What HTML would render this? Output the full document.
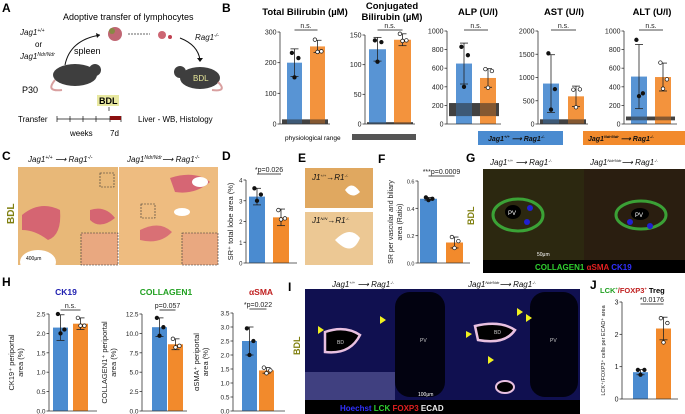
<!DOCTYPE html>
<html><head><meta charset="utf-8">
<style>
html,body{margin:0;padding:0;background:#fff;}
svg{display:block;font-family:"Liberation Sans",Arial,sans-serif;}
.t{font-size:8px;fill:#222}
.h{font-weight:bold;font-size:12px;fill:#000}
.ttl{font-weight:bold;font-size:10px;fill:#000}
.it{font-style:italic;font-size:9px;fill:#111}
</style></head>
<body>
<svg id="fig" width="685" height="414" viewBox="0 0 685 414" xmlns="http://www.w3.org/2000/svg">
<!-- Panel A -->
<g>
<text x="2" y="12" class="h">A</text>
<text x="63" y="20" style="font-size:9px">Adoptive transfer of lymphocytes</text>
<text x="20" y="35" class="it" style="font-size:8px">Jag1<tspan font-size="5" dy="-3">+/+</tspan></text>
<text x="35" y="47" style="font-size:8px">or</text>
<text x="20" y="59" class="it" style="font-size:8px">Jag1<tspan font-size="5" dy="-3">Ndr/Ndr</tspan></text>
<path d="M65 65 Q70 40 100 35" fill="none" stroke="#111" stroke-width="1"/><path d="M100 35 l-4 -2 l1 5z" fill="#111"/>
<text x="74" y="54" style="font-size:9px">spleen</text>
<circle cx="115" cy="34" r="7" fill="#b04050" opacity="0.8"/><circle cx="112" cy="31" r="3" fill="#884"/>
<line x1="128" y1="34" x2="150" y2="34" stroke="#333" stroke-dasharray="2,1" stroke-width="0.7"/>
<circle cx="162" cy="35" r="4" fill="#c04050" opacity="0.8"/><circle cx="170" cy="37" r="2" fill="#c04050"/>
<text x="195" y="40" class="it" style="font-size:8px">Rag1<tspan font-size="5" dy="-3">-/-</tspan></text>
<path d="M180 38 Q198 45 200 60" fill="none" stroke="#111" stroke-width="1"/><path d="M197 58 l3 4 l3 -4z" fill="#111"/>
<ellipse cx="75" cy="75" rx="22" ry="11" fill="#3e3e3e"/>
<circle cx="95" cy="70" r="6" fill="#3e3e3e"/><path d="M55 80 Q45 92 62 90" stroke="#d9a0a0" stroke-width="2" fill="none"/>
<text x="22" y="93" style="font-size:9px">P30</text>
<ellipse cx="200" cy="78" rx="20" ry="11" fill="#3e3e3e"/>
<circle cx="180" cy="72" r="6" fill="#3e3e3e"/><path d="M218 82 Q228 92 212 90" stroke="#d9a0a0" stroke-width="2" fill="none"/>
<text x="193" y="81" style="font-size:8px;fill:#e8e89a">BDL</text>
<rect x="97" y="95" width="22" height="11" fill="#e8e8a0"/>
<text x="99" y="104" style="font-size:9px;font-weight:bold">BDL</text>
<line x1="109" y1="107" x2="109" y2="111" stroke="#111" stroke-width="0.7"/>
<text x="18" y="122" style="font-size:8px">Transfer</text>
<line x1="57" y1="119" x2="110" y2="119" stroke="#111" stroke-width="0.7"/>
<g stroke="#111" stroke-width="0.7"><line x1="57" y1="116" x2="57" y2="122"/><line x1="70" y1="116" x2="70" y2="122"/><line x1="83" y1="116" x2="83" y2="122"/><line x1="96" y1="116" x2="96" y2="122"/><line x1="110" y1="116" x2="110" y2="122"/><line x1="121" y1="116" x2="121" y2="122"/></g>
<rect x="110" y="116" width="11" height="4" fill="#8b1010"/>
<text x="70" y="136" style="font-size:8px">weeks</text>
<text x="110" y="136" style="font-size:8px">7d</text>
<text x="138" y="122" style="font-size:8px">Liver - WB, Histology</text>
</g>
<text x="222" y="12" class="h">B</text>
<!-- Legend B -->
<text x="285" y="140" style="font-size:6.5px">physiological range</text>
<rect x="352" y="134" width="64" height="6" fill="#555"/>
<rect x="478" y="131" width="85" height="14" fill="#4a8bd0"/>
<text x="488" y="141" class="it" style="font-size:7px;font-weight:bold">Jag1<tspan font-size="4" dy="-3">+/+</tspan><tspan dy="3"> ⟶ Rag1</tspan><tspan font-size="4" dy="-3">-/-</tspan></text>
<rect x="583" y="131" width="102" height="14" fill="#f28a2c"/>
<text x="588" y="141" class="it" style="font-size:7px;font-weight:bold">Jag1<tspan font-size="4" dy="-3">Ndr/Ndr</tspan><tspan dy="3"> ⟶ Rag1</tspan><tspan font-size="4" dy="-3">-/-</tspan></text>

<!-- Panel C -->
<text x="2" y="160" class="h">C</text>
<text x="28" y="162" class="it" style="font-size:8px">Jag1<tspan font-size="5" dy="-3">+/+</tspan><tspan dy="3"> ⟶  Rag1</tspan><tspan font-size="5" dy="-3">-/-</tspan></text>
<text x="127" y="162" class="it" style="font-size:8px">Jag1<tspan font-size="5" dy="-3">Ndr/Ndr</tspan><tspan dy="3">⟶ Rag1</tspan><tspan font-size="5" dy="-3">-/-</tspan></text>
<g>
<rect x="18" y="167" width="100" height="98" fill="#e8b878"/>
<rect x="119" y="167" width="99" height="98" fill="#eebc80"/>
<path d="M22 215 Q40 200 60 210 Q62 235 48 240 Q35 230 22 230z" fill="#d05070" opacity="0.8"/>
<path d="M90 210 Q105 205 115 218 Q100 230 90 220z" fill="#d05070" opacity="0.8"/>
<path d="M170 178 Q195 170 210 182 Q195 195 175 192z" fill="#d05070" opacity="0.8"/>
<path d="M140 230 Q160 220 172 232 Q160 245 140 240z" fill="#d05070" opacity="0.7"/>
<ellipse cx="38" cy="262" rx="18" ry="12" fill="#fff"/>
<ellipse cx="200" cy="182" rx="8" ry="5" fill="#fff"/><ellipse cx="182" cy="212" rx="8" ry="4" fill="#fff"/>
<rect x="81" y="233" width="37" height="32" fill="#e9a880" stroke="#333" stroke-dasharray="2,1" stroke-width="0.6"/>
<rect x="182" y="233" width="36" height="32" fill="#e9a880" stroke="#333" stroke-dasharray="2,1" stroke-width="0.6"/>
<rect x="100" y="173" width="14" height="14" fill="none" stroke="#333" stroke-dasharray="2,1" stroke-width="0.6"/>
<rect x="141" y="204" width="14" height="14" fill="none" stroke="#333" stroke-dasharray="2,1" stroke-width="0.6"/>
<text x="26" y="260" style="font-size:5px">400μm</text>
</g>
<text x="14" y="224" transform="rotate(-90 14 224)" style="font-size:10px;font-weight:bold;fill:#808010">BDL</text>
<text x="222" y="160" class="h">D</text>
<!-- Panel E -->
<text x="298" y="162" class="h">E</text>
<g>
<rect x="305" y="168" width="68" height="40" fill="#e0a860"/>
<rect x="305" y="212" width="68" height="53" fill="#ecc894"/>
<path d="M345 190 Q352 180 360 192 Q352 200 345 190z" fill="#fff"/>
<path d="M335 240 Q350 225 360 238 Q352 258 335 240z" fill="#fff"/>
<text x="312" y="180" class="it" style="font-size:8px">J1<tspan font-size="4" dy="-3">+/+</tspan><tspan dy="3">→R1</tspan><tspan font-size="4" dy="-3">-/-</tspan></text>
<text x="312" y="223" class="it" style="font-size:8px">J1<tspan font-size="4" dy="-3">N/N</tspan><tspan dy="3">→R1</tspan><tspan font-size="4" dy="-3">-/-</tspan></text>
</g>
<text x="378" y="163" class="h">F</text>
<!-- Panel G -->
<text x="466" y="162" class="h">G</text>
<text x="490" y="165" class="it" style="font-size:8px">Jag1<tspan font-size="4" dy="-3">+/+</tspan><tspan dy="3"> ⟶  Rag1</tspan><tspan font-size="4" dy="-3">-/-</tspan></text>
<text x="590" y="165" class="it" style="font-size:8px">Jag1<tspan font-size="4" dy="-3">Ndr/Ndr</tspan><tspan dy="3">⟶ Rag1</tspan><tspan font-size="4" dy="-3">-/-</tspan></text>
<g>
<rect x="483" y="169" width="202" height="91" fill="#2c2810"/>
<rect x="584" y="169" width="101" height="91" fill="#2a1e10"/>
<ellipse cx="518" cy="215" rx="25" ry="16" fill="none" stroke="#40c040" stroke-width="3" opacity="0.8"/>
<ellipse cx="641" cy="215" rx="25" ry="14" fill="none" stroke="#40c040" stroke-width="3" opacity="0.8"/>
<ellipse cx="513" cy="212" rx="8" ry="7" fill="#000"/><ellipse cx="640" cy="214" rx="9" ry="6" fill="#000"/>
<circle cx="530" cy="208" r="3" fill="#2020d0"/><circle cx="527" cy="222" r="3" fill="#2020d0"/><circle cx="630" cy="222" r="3" fill="#2020d0"/><circle cx="650" cy="226" r="3" fill="#2020d0"/>
<text x="508" y="215" style="font-size:6px;fill:#fff">PV</text>
<text x="635" y="217" style="font-size:6px;fill:#fff">PV</text>
<rect x="483" y="260" width="202" height="13" fill="#000"/>
<text x="535" y="270" style="font-size:8px;font-weight:bold"><tspan fill="#30d030">COLLAGEN1 </tspan><tspan fill="#e02020">αSMA </tspan><tspan fill="#3030ff">CK19</tspan></text>
<text x="537" y="256" style="font-size:5px;fill:#fff">50μm</text>
</g>
<text x="474" y="225" transform="rotate(-90 474 225)" style="font-size:9px;font-weight:bold;fill:#808010">BDL</text>
<!-- Panel H -->
<text x="2" y="286" class="h">H</text>
<!-- Panel I -->
<text x="288" y="291" class="h">I</text>
<text x="332" y="287" class="it" style="font-size:8px">Jag1<tspan font-size="4" dy="-3">+/+</tspan><tspan dy="3"> ⟶  Rag1</tspan><tspan font-size="4" dy="-3">-/-</tspan></text>
<text x="468" y="287" class="it" style="font-size:8px">Jag1<tspan font-size="4" dy="-3">Ndr/Ndr</tspan><tspan dy="3">⟶ Rag1</tspan><tspan font-size="4" dy="-3">-/-</tspan></text>
<g>
<rect x="305" y="289" width="275" height="125" fill="#101050"/>
<rect x="395" y="292" width="50" height="105" rx="15" fill="#020210"/>
<rect x="530" y="292" width="48" height="105" rx="15" fill="#020210"/>
<path d="M325 332 Q345 325 360 335 Q350 355 325 352z" fill="#000" stroke="#e8c0e0" stroke-width="2.5"/>
<path d="M475 326 Q500 320 515 330 Q505 345 478 340z" fill="#000" stroke="#e8c0e0" stroke-width="2.5"/>
<ellipse cx="505" cy="387" rx="9" ry="6" fill="#000" stroke="#e8c0e0" stroke-width="2"/>
<rect x="305" y="372" width="90" height="28" fill="#6060a0" opacity="0.6"/>
<rect x="305" y="400" width="275" height="14" fill="#000"/>
<text x="340" y="411" style="font-size:8px;font-weight:bold"><tspan fill="#3030ff">Hoechst </tspan><tspan fill="#30d030">LCK </tspan><tspan fill="#e02020">FOXP3 </tspan><tspan fill="#eee">ECAD</tspan></text>
<text x="420" y="342" style="font-size:5px;fill:#ccc">PV</text>
<text x="550" y="342" style="font-size:5px;fill:#ccc">PV</text>
<text x="337" y="344" style="font-size:5px;fill:#ccc">BD</text>
<text x="494" y="334" style="font-size:5px;fill:#ccc">BD</text>
<polygon points="318,326 324,330 318,334" fill="#f0f020"/><polygon points="380,316 386,320 380,324" fill="#f0f020"/>
<polygon points="466,331 472,334 466,338" fill="#f0f020"/><polygon points="488,356 494,360 488,364" fill="#f0f020"/>
<polygon points="517,308 523,312 517,316" fill="#f0f020"/><polygon points="526,314 532,318 526,322" fill="#f0f020"/>
<text x="418" y="396" style="font-size:5px;fill:#fff">100μm</text>
</g>
<text x="300" y="355" transform="rotate(-90 300 355)" style="font-size:9px;font-weight:bold;fill:#808010">BDL</text>
<!-- Panel J -->
<text x="590" y="289" class="h">J</text>
<text x="600" y="293" style="font-size:7.5px;font-weight:bold"><tspan fill="#20a020">LCK<tspan font-size="4" dy="-3">+</tspan></tspan><tspan dy="3" fill="#c02020">/FOXP3<tspan font-size="4" dy="-3">+</tspan></tspan><tspan dy="3"> Treg</tspan></text>
<g id="charts"></g>
</svg>
<script>
// ---- Data arrays ----
const groups = ["Jag1+/+ → Rag1-/-", "Jag1Ndr/Ndr → Rag1-/-"];
const totalBiliMeans = [200, 253];
const totalBiliErr = [45, 20];
const totalBiliPtsA = [232, 215, 152];
const totalBiliPtsB = [275, 237, 235];
const totalBiliRange = [0, 15];
const totalBiliTicks = [0, 100, 200, 300];
const conjBiliMeans = [126, 142];
const conjBiliErr = [20, 10];
const conjBiliPtsA = [141, 138, 105];
const conjBiliPtsB = [152, 141, 140];
const conjBiliRange = [0, 3];
const conjBiliTicks = [0, 50, 100, 150];
const alpMeans = [650, 495];
const alpErr = [220, 100];
const alpPtsA = [830, 740, 400];
const alpPtsB = [590, 570, 390];
const alpRange = [85, 225];
const alpTicks = [0, 200, 400, 600, 800, 1000];
const astMeans = [870, 595];
const astErr = [620, 220];
const astPtsA = [1520, 750, 310];
const astPtsB = [740, 745, 360];
const astRange = [0, 100];
const astTicks = [0, 500, 1000, 1500, 2000];
const altMeans = [510, 505];
const altErr = [345, 150];
const altPtsA = [905, 330, 300];
const altPtsB = [660, 480, 380];
const altRange = [40, 80];
const altTicks = [0, 200, 400, 600, 800, 1000];
const srMeans = [3.2, 2.2];
const srErr = [0.4, 0.4];
const srPtsA = [3.6, 3.3, 3.0];
const srPtsB = [2.55, 2.15, 2.1];
const srTicks = [0, 1, 2, 3, 4];
const srRatioMeans = [0.47, 0.15];
const srRatioErr = [0.01, 0.04];
const srRatioPtsA = [0.48, 0.47, 0.46];
const srRatioPtsB = [0.19, 0.16, 0.11];
const srRatioTicks = [0, 0.2, 0.4, 0.6];
const ck19Means = [2.15, 2.25];
const ck19Err = [0.33, 0.15];
const ck19PtsA = [2.5, 2.1, 2.0];
const ck19PtsB = [2.4, 2.2, 2.2];
const ck19Ticks = [0, 0.5, 1.0, 1.5, 2.0, 2.5];
const colMeans = [10.8, 8.6];
const colErr = [1.2, 0.7];
const colPtsA = [12, 10.8, 9.7];
const colPtsB = [9.3, 8.4, 8.2];
const colTicks = [0, 2.5, 5.0, 7.5, 10.0, 12.5];
const smaMeans = [2.5, 1.45];
const smaErr = [0.5, 0.1];
const smaPtsA = [2.95, 2.5, 2.0];
const smaPtsB = [1.55, 1.45, 1.35];
const smaTicks = [0, 0.5, 1.0, 1.5, 2.0, 2.5, 3.0, 3.5];
const tregMeans = [0.83, 2.18];
const tregErr = [0.08, 0.35];
const tregPtsA = [0.9, 0.9, 0.75];
const tregPtsB = [2.5, 2.35, 1.75];
const tregTicks = [0, 1, 2, 3];

const NS = "http://www.w3.org/2000/svg";
const root = document.getElementById("charts");
function el(tag, attrs, parent) {
  const e = document.createElementNS(NS, tag);
  for (const k in attrs) e.setAttribute(k, attrs[k]);
  (parent || root).appendChild(e);
  return e;
}
function fmt(v, dec) { return dec ? v.toFixed(dec) : String(v); }

function chart(c) {
  const g = el("g", {});
  
  
  const tmax = c.ticks[c.ticks.length - 1];
  const y = v => c.y0 - (v / tmax) * (c.y0 - c.yTop);
  const bx = [c.x1, c.x2];
  if (c.range) {
    const band = el("rect", {x: c.ax + 2, y: y(c.range[1]), width: c.axEnd - c.ax - 4, height: Math.max(1.5, y(c.range[0]) - y(c.range[1])), fill: "#444", opacity: "0.9"}, g);
    
    
  }
  const colors = ["#4a8bd0", "#f28a2c"];
  for (let i = 0; i < 2; i++) {
    const top = y(c.means[i]);
    const r = el("rect", {x: bx[i], y: top, width: c.bw, height: c.y0 - top, fill: colors[i], opacity: c.range ? 0.92 : 1}, g);
    
    
    const cx = bx[i] + c.bw / 2;
    const eh = y(c.means[i] + c.err[i]), el_ = y(Math.max(0, c.means[i] - c.err[i]));
    const eb = el("g", {stroke: "#222", "stroke-width": 0.8}, g);
    
    
    el("line", {x1: cx, y1: eh, x2: cx, y2: el_}, eb);
    el("line", {x1: cx - 4, y1: eh, x2: cx + 4, y2: eh}, eb);
    el("line", {x1: cx - 4, y1: el_, x2: cx + 4, y2: el_}, eb);
    const pts = i === 0 ? c.ptsA : c.ptsB;
    const offs = [-2, 3, 0];
    pts.forEach((p, k) => {
      const d = el("circle", {cx: cx + offs[k] * 1.3, cy: y(p), r: 1.8, fill: i === 0 ? "#111" : "#fff", stroke: "#111", "stroke-width": 0.7}, g);
      
      
    });
  }
  if (c.range) {
    el("rect", {x: c.ax + 2, y: y(c.range[1]), width: c.axEnd - c.ax - 4, height: Math.max(1.5, y(c.range[0]) - y(c.range[1])), fill: "#333", opacity: "0.55"}, g);
  }
  el("line", {x1: c.ax, y1: c.yTop, x2: c.ax, y2: c.y0, stroke: "#333", "stroke-width": 0.8}, g);
  el("line", {x1: c.ax, y1: c.y0, x2: c.axEnd, y2: c.y0, stroke: "#333", "stroke-width": 0.8}, g);
  c.ticks.forEach(t => {
    el("line", {x1: c.ax - 2.5, y1: y(t), x2: c.ax, y2: y(t), stroke: "#333", "stroke-width": 0.8}, g);
    const tl = el("text", {x: c.ax - 3.5, y: y(t) + 2.5, "text-anchor": "end", class: "t", style: "font-size:" + (c.fs || 7) + "px"}, g);
    tl.textContent = fmt(t, c.dec);
    
    
  });
  if (c.sig) {
    const sy = c.sigY;
    el("line", {x1: bx[0] + c.bw / 2, y1: sy, x2: bx[1] + c.bw / 2, y2: sy, stroke: "#111", "stroke-width": 0.8}, g);
    const st = el("text", {x: (bx[0] + bx[1] + c.bw) / 2, y: sy - 2, "text-anchor": "middle", class: "t", style: "font-size:7px"}, g);
    st.textContent = c.sig;
    
    
  }
  if (c.title) {
    c.title.forEach((line, k) => {
      const tt = el("text", {x: c.tx, y: c.ty + k * 11, "text-anchor": "middle", class: "ttl", style: "fill:" + (c.tcol || "#000") + ";font-size:" + (c.tfs || 9.5) + "px"}, g);
      tt.textContent = line;
      
      
    });
  }
  if (c.ylabel) {
    const cy = (c.yTop + c.y0) / 2;
    const sp = c.ysp || 9;
    c.ylabel.forEach((line, k) => {
      const yl = el("text", {x: c.ylx + k * sp, y: cy, "text-anchor": "middle", transform: "rotate(-90 " + (c.ylx + k * sp) + " " + cy + ")", style: "font-size:" + (c.yfs || 8) + "px;fill:#222"}, g);
      yl.textContent = line;
      
      
    });
  }
}

chart({name: "total-bilirubin-chart", means: totalBiliMeans, err: totalBiliErr, ptsA: totalBiliPtsA, ptsB: totalBiliPtsB, range: totalBiliRange, ticks: totalBiliTicks,
  ax: 280, axEnd: 330, y0: 124, yTop: 32, x1: 287, x2: 310, bw: 15, sig: "n.s.", sigY: 30, title: ["Total Bilirubin (µM)"], tx: 305, ty: 15});
chart({name: "conjugated-bilirubin-chart", means: conjBiliMeans, err: conjBiliErr, ptsA: conjBiliPtsA, ptsB: conjBiliPtsB, range: conjBiliRange, ticks: conjBiliTicks,
  ax: 365, axEnd: 415, y0: 124, yTop: 35, x1: 369, x2: 394, bw: 17, sig: "n.s.", sigY: 30, title: ["Conjugated", "Bilirubin (µM)"], tx: 392, ty: 9});
chart({name: "alp-chart", means: alpMeans, err: alpErr, ptsA: alpPtsA, ptsB: alpPtsB, range: alpRange, ticks: alpTicks,
  ax: 447, axEnd: 501, y0: 124, yTop: 31, x1: 456, x2: 480, bw: 16, sig: "n.s.", sigY: 30, title: ["ALP (U/l)"], tx: 478, ty: 15});
chart({name: "ast-chart", means: astMeans, err: astErr, ptsA: astPtsA, ptsB: astPtsB, range: astRange, ticks: astTicks,
  ax: 538, axEnd: 588, y0: 124, yTop: 31, x1: 543, x2: 568, bw: 16, sig: "n.s.", sigY: 30, title: ["AST (U/l)"], tx: 564, ty: 15});
chart({name: "alt-chart", means: altMeans, err: altErr, ptsA: altPtsA, ptsB: altPtsB, range: altRange, ticks: altTicks,
  ax: 624, axEnd: 677, y0: 124, yTop: 31, x1: 631, x2: 655, bw: 16, sig: "n.s.", sigY: 30, title: ["ALT (U/l)"], tx: 652, ty: 15});
chart({name: "sr-total-lobe-chart", means: srMeans, err: srErr, ptsA: srPtsA, ptsB: srPtsB, ticks: srTicks, fs: 6,
  ax: 246, axEnd: 297, y0: 263, yTop: 180, x1: 249, x2: 273, bw: 16, sig: "*p=0.026", sigY: 174, ylabel: ["SR⁺  total lobe area (%)"], ylx: 233, yfs: 7.5});
chart({name: "sr-periportal-ratio-chart", means: srRatioMeans, err: srRatioErr, ptsA: srRatioPtsA, ptsB: srRatioPtsB, ticks: srRatioTicks, dec: 1, fs: 5.5,
  ax: 418, axEnd: 470, y0: 263, yTop: 181, x1: 420, x2: 446, bw: 17, sig: "***p=0.0009", sigY: 176, ylabel: ["SR per vascular and biliary", "area (Ratio)"], ylx: 393, yfs: 7});
chart({name: "ck19-chart", means: ck19Means, err: ck19Err, ptsA: ck19PtsA, ptsB: ck19PtsB, ticks: ck19Ticks, dec: 1, fs: 6.5,
  ax: 49, axEnd: 97, y0: 411, yTop: 314, x1: 53, x2: 73, bw: 15, sig: "n.s.", sigY: 310, title: ["CK19"], tx: 66, ty: 295, tcol: "#2020b0", tfs: 8.5,
  ylabel: ["CK19⁺ periportal", "area (%)"], ylx: 14, ysp: 9, yfs: 7.5});
chart({name: "collagen1-chart", means: colMeans, err: colErr, ptsA: colPtsA, ptsB: colPtsB, ticks: colTicks, dec: 1, fs: 6.5,
  ax: 142, axEnd: 187, y0: 411, yTop: 314, x1: 152, x2: 168, bw: 15, sig: "p=0.057", sigY: 310, title: ["COLLAGEN1"], tx: 166, ty: 295, tcol: "#20a020", tfs: 8.5,
  ylabel: ["COLLAGEN1⁺ periportal", "area (%)"], ylx: 107, ysp: 9, yfs: 7.5});
chart({name: "asma-chart", means: smaMeans, err: smaErr, ptsA: smaPtsA, ptsB: smaPtsB, ticks: smaTicks, dec: 1, fs: 6.5,
  ax: 233, axEnd: 285, y0: 411, yTop: 313, x1: 242, x2: 259, bw: 15, sig: "*p=0.022", sigY: 309, title: ["αSMA"], tx: 261, ty: 295, tcol: "#c02020", tfs: 8.5,
  ylabel: ["αSMA⁺ periportal", "area (%)"], ylx: 199, ysp: 9, yfs: 7.5});
chart({name: "treg-chart", means: tregMeans, err: tregErr, ptsA: tregPtsA, ptsB: tregPtsB, ticks: tregTicks,
  ax: 622, axEnd: 678, y0: 399, yTop: 302, x1: 633, x2: 656, bw: 15, sig: "*0.0176", sigY: 304, ylabel: ["LCK⁺/FOXP3⁺ cells per ECAD⁺ area"], ylx: 605, yfs: 5.5});
</script>
</body></html>
